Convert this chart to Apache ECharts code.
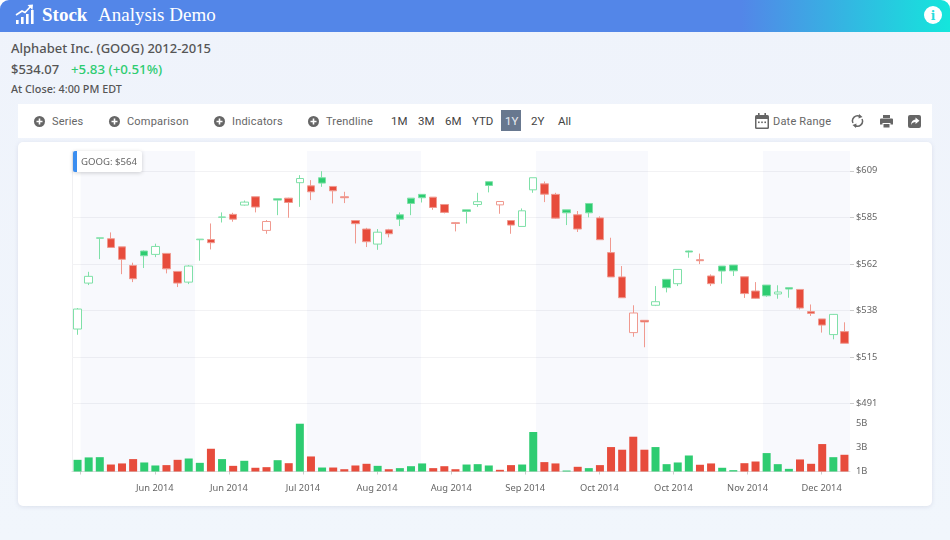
<!DOCTYPE html>
<html>
<head>
<meta charset="utf-8">
<script src="https://cdn.jsdelivr.net/npm/echarts@6/dist/echarts.min.js"></script>
<style>
html, body { margin: 0; padding: 0; background: #fff; }
#page { position: relative; width: 950px; height: 540px; overflow: hidden; border-radius: 9px 9px 0 0; background: linear-gradient(180deg, #eff3fb, #f1f6fc); font-family: "Noto Sans", sans-serif; color: #555; }
#head { position: absolute; left: 0; top: 0; width: 950px; height: 32px; background: linear-gradient(90deg, #5386e8 78%, #14e6dc 100%); }
#head span { position: absolute; font-family: "Liberation Serif", serif; color: #fff; font-size: 19px; top: 4px; white-space: nowrap; }
.t { position: absolute; white-space: nowrap; }
.bar { position: absolute; left: 18px; top: 104px; width: 914px; height: 34px; background: #fff; }
.card { position: absolute; left: 18px; top: 142px; width: 914px; height: 364px; background: #fff; border-radius: 5px; box-shadow: 0 1px 4px rgba(120,130,160,.18); }
.edge { position: absolute; left: 72px; top: 151px; width: 1px; height: 321px; background: #f0f0f2; }
.tb { font-family: Roboto, sans-serif; font-size: 11px; color: #666; top: 115px; letter-spacing: .2px; }
.rg { font-family: Roboto, sans-serif; font-size: 11.5px; color: #444; top: 114px; }
#main { position: absolute; left: 0; top: 0; width: 950px; height: 540px; }
#tag { position: absolute; left: 73px; top: 151px; width: 69px; height: 21px; background: #fff; border-left: 4px solid #3b8ef0; box-sizing: border-box; border-radius: 2px; box-shadow: 0 1px 4px rgba(0,0,0,.18); font-size: 9.6px; line-height: 21px; padding-left: 4px; color: #666; white-space: nowrap; }
svg.i { position: absolute; }
</style>
</head>
<body>
<div id="page">
  <div id="head">
    <svg class="i" style="left:15px;top:4px" width="20" height="20" viewBox="0 0 20 20">
      <g fill="#fff"><rect x="1" y="16" width="2.6" height="4"/><rect x="6" y="13" width="2.6" height="7"/><rect x="11" y="10" width="2.6" height="10"/><rect x="16" y="6" width="2.6" height="14"/></g>
      <path d="M1 11 L7 7 L10 8.5 L16 2" stroke="#fff" stroke-width="1.6" fill="none"/><path d="M12.5 1 L18 0.5 L17.5 6 Z" fill="#fff"/>
    </svg>
    <span style="left:42px;font-weight:bold">Stock</span>
    <span style="left:98px">Analysis Demo</span>
    <svg class="i" style="left:924px;top:6px" width="18" height="18" viewBox="0 0 18 18"><circle cx="9" cy="9" r="9" fill="#fff"/><text x="9" y="14" text-anchor="middle" font-family="DejaVu Serif" font-weight="bold" font-size="12" fill="#25dcdc">i</text></svg>
  </div>

  <div class="t" style="left:11px;top:39px;font-size:13px;font-weight:500">Alphabet Inc. (GOOG) 2012-2015</div>
  <div class="t" style="left:11px;top:60px;font-size:13px;font-weight:500">$534.07</div>
  <div class="t" style="left:71px;top:60px;font-size:13.3px;font-weight:500;color:#2ecc71">+5.83 (+0.51%)</div>
  <div class="t" style="left:11px;top:81px;font-size:10.8px;font-weight:500">At Close: 4:00 PM EDT</div>

  <div class="bar"></div>
  <svg class="i" style="left:33px;top:115px" width="340" height="13" viewBox="0 0 340 13">
    <g id="plus"><circle cx="6.5" cy="6.5" r="5.5" fill="#666"/><path d="M3.5 6.5H9.5M6.5 3.5V9.5" stroke="#fff" stroke-width="1.6"/></g>
    <use href="#plus" x="75"/><use href="#plus" x="180"/><use href="#plus" x="274"/>
  </svg>
  <div class="t tb" style="left:52px">Series</div>
  <div class="t tb" style="left:127px">Comparison</div>
  <div class="t tb" style="left:232px">Indicators</div>
  <div class="t tb" style="left:326px">Trendline</div>
  <div class="t rg" style="left:391px">1M</div>
  <div class="t rg" style="left:418px">3M</div>
  <div class="t rg" style="left:445px">6M</div>
  <div class="t rg" style="left:472px">YTD</div>
  <div class="t" style="left:501px;top:110px;width:20px;height:21px;background:#68788f"></div>
  <div class="t rg" style="left:505px;color:#e8ecf2">1Y</div>
  <div class="t rg" style="left:531px">2Y</div>
  <div class="t rg" style="left:558px">All</div>
  <svg class="i" style="left:755px;top:113px" width="14" height="16" viewBox="0 0 14 16"><rect x="0" y="2" width="14" height="14" rx="1.5" fill="#666"/><rect x="1.5" y="6" width="11" height="8.5" fill="#fff"/><rect x="3" y="0" width="1.6" height="3" fill="#666"/><rect x="9.4" y="0" width="1.6" height="3" fill="#666"/><g fill="#666"><rect x="3" y="8.5" width="1.6" height="1.6"/><rect x="6.2" y="8.5" width="1.6" height="1.6"/><rect x="9.4" y="8.5" width="1.6" height="1.6"/></g></svg>
  <div class="t tb" style="left:773px">Date Range</div>
  <svg class="i" style="left:851px;top:114px" width="13" height="14" viewBox="0 0 13 14"><path d="M2 9 A5 5 0 0 1 9 2.5 M11 5 A5 5 0 0 1 4 11.5" stroke="#666" stroke-width="1.5" fill="none"/><path d="M8 0 L11.5 3 L7.5 4.5 Z M5 14 L1.5 11 L5.5 9.5 Z" fill="#666"/></svg>
  <svg class="i" style="left:880px;top:115px" width="13" height="13" viewBox="0 0 13 13"><path d="M3 0H10V3H3Z M0 4.5Q0 3.5 1 3.5H12Q13 3.5 13 4.5V9.5H10.5V8H2.5V9.5H0Z" fill="#666"/><rect x="3.5" y="9" width="6" height="3.5" fill="#666"/></svg>
  <svg class="i" style="left:908px;top:115px" width="13" height="13" viewBox="0 0 13 13"><rect width="13" height="13" rx="2" fill="#666"/><path d="M7.5 2.5 L11.5 5.8 L7.5 9 V7 C5.5 7 4 7.8 3 10 C3 6.5 5 4.6 7.5 4.5Z" fill="#fff"/></svg>

  <div class="card"></div>
  <div class="edge"></div>
  <div id="main"></div>
  <div id="tag">GOOG: $564</div>
</div>

<script>
var opens = [528.6, 551.8, 574.4, 574.2, 570.1, 560.7, 568.0, 566.3, 566.8, 557.7,
  552.3, 573.7, 573.8, 585.0, 586.5, 591.2, 595.4, 578.4, 594.4, 594.7,
  602.5, 600.9, 605.0, 600.6, 595.4, 583.4, 579.1, 571.5, 578.7, 586.3,
  594.7, 596.6, 595.2, 591.5, 582.3, 588.8, 591.5, 603.0, 591.3, 583.4,
  580.4, 598.9, 601.9, 596.6, 588.8, 586.3, 592.0, 584.7, 567.2, 554.9,
  526.8, 533.0, 540.6, 553.7, 551.5, 568.0, 563.6, 555.4, 560.4, 560.9,
  555.0, 547.8, 550.8, 546.3, 549.5, 548.6, 537.4, 533.7, 525.8, 527.3];
var closes = [538.7, 555.2, 574.7, 569.8, 563.8, 554.0, 565.6, 570.3, 559.0, 551.8,
  560.4, 574.0, 572.2, 585.2, 584.1, 592.7, 590.2, 582.9, 593.7, 592.5,
  604.6, 597.9, 602.3, 598.4, 594.9, 581.8, 572.7, 577.5, 576.7, 584.1,
  592.0, 594.9, 590.0, 587.5, 581.9, 588.0, 592.9, 601.1, 593.0, 581.1,
  588.3, 605.0, 596.7, 584.6, 587.3, 579.1, 587.3, 573.7, 554.9, 544.4,
  536.7, 532.2, 542.4, 549.5, 558.7, 567.5, 563.1, 551.5, 557.9, 558.0,
  546.5, 544.1, 545.4, 547.3, 548.8, 539.2, 536.5, 530.6, 536.0, 521.4];
var lows = [525.7, 550.8, 563.9, 569.8, 556.3, 552.3, 559.4, 564.9, 556.7, 549.8,
  551.3, 563.1, 568.8, 582.4, 582.8, 590.9, 587.5, 576.7, 586.1, 584.8,
  590.3, 593.7, 600.4, 592.0, 592.2, 571.8, 570.0, 568.6, 574.9, 580.6,
  586.1, 592.5, 588.8, 587.0, 577.9, 581.9, 590.3, 597.6, 586.8, 576.7,
  580.4, 597.4, 592.7, 584.3, 581.1, 577.6, 585.0, 573.7, 554.9, 544.4,
  524.7, 519.4, 540.2, 547.1, 550.3, 564.6, 561.4, 550.3, 551.5, 555.4,
  544.3, 543.8, 544.9, 543.9, 544.4, 538.5, 535.2, 526.8, 523.4, 521.4];
var highs = [539.2, 557.5, 574.7, 577.4, 570.1, 562.1, 568.3, 571.7, 566.8, 557.7,
  560.9, 574.0, 581.9, 587.5, 587.3, 593.5, 595.4, 583.6, 594.4, 594.9,
  606.3, 603.8, 608.3, 600.6, 597.9, 583.4, 579.7, 579.1, 579.2, 587.5,
  594.7, 596.6, 595.2, 591.5, 582.6, 588.8, 597.4, 603.0, 593.0, 583.4,
  589.5, 605.0, 603.1, 597.4, 588.8, 588.2, 592.0, 585.5, 574.7, 560.4,
  540.6, 533.0, 550.3, 553.7, 558.7, 568.2, 566.7, 556.2, 560.4, 560.9,
  555.0, 552.3, 550.8, 550.7, 549.5, 548.6, 541.0, 533.7, 536.2, 532.0];
// volume in billions
var volumes = [1.97, 2.17, 2.19, 1.58, 1.67, 2.03, 1.75, 1.5, 1.53, 1.97,
  2.08, 1.72, 2.89, 2.03, 1.47, 1.89, 1.31, 1.36, 1.94, 1.69,
  4.97, 2.25, 1.33, 1.33, 1.19, 1.5, 1.64, 1.47, 1.19, 1.28,
  1.44, 1.67, 1.28, 1.44, 1.19, 1.58, 1.61, 1.5, 1.14, 1.53,
  1.58, 4.28, 1.78, 1.67, 1.08, 1.39, 1.28, 1.53, 3.03, 2.81,
  3.89, 2.81, 3.03, 1.61, 1.75, 2.33, 1.56, 1.67, 1.31, 1.11,
  1.69, 1.83, 2.53, 1.61, 1.22, 2.0, 1.64, 3.28, 2.19, 2.39];

// x axis runs in trading-day index, month marks fall between the sessions
var monthTicks = [0.283, 6.95, 13.62, 20.28, 26.95, 33.62, 40.28, 46.95, 53.62, 60.28, 66.95];
var monthLabels = ['', 'Jun 2014', 'Jun 2014', 'Jul 2014', 'Aug 2014', 'Aug 2014', 'Sep 2014', 'Oct 2014', 'Oct 2014', 'Nov 2014', 'Dec 2014'];
var shadedMonths = [[0.283, 10.57], [20.64, 30.9], [41.25, 51.33], [61.67, 69.5]];
var priceTicks = [491, 514.5, 538, 561.5, 585, 608.5];
var volumeTicks = [1, 3, 5];

var green = '#2ecc71', red = '#e74c3c';
var greenEdge = '#7fe0a8', redEdge = '#f09a90';

function isUp(i) {
    return i === 0 || closes[i] >= closes[i - 1];
}

// hollow when close is above open, colour follows the previous close
function candleGroup(up, hollow) {
    var rows = [];
    closes.forEach(function (c, i) {
        if (isUp(i) === up && (c > opens[i]) === hollow) {
            rows.push([i, opens[i], c, lows[i], highs[i]]);
        }
    });
    var fill = hollow ? '#fff' : (up ? green : red);
    var edge = up ? greenEdge : redEdge;
    return {
        type: 'candlestick',
        xAxisIndex: 0, yAxisIndex: 0,
        barWidth: 8,
        itemStyle: { color: fill, color0: fill, borderColor: edge, borderColor0: edge, borderWidth: 1 },
        data: rows
    };
}

var volumeData = volumes.map(function (v, i) {
    return { value: [i, v], itemStyle: { color: isUp(i) ? green : red } };
});

var bandData = shadedMonths.map(function (b) {
    return [{ xAxis: b[0] }, { xAxis: b[1] }];
});
var bandStyle = { silent: true, itemStyle: { color: 'rgba(70,90,210,0.04)' }, data: bandData };
var labelFont = { color: '#666', fontSize: 9.3, fontFamily: 'Noto Sans', padding: [2, 0, 0, 0] };

var candleSeries = [candleGroup(true, true), candleGroup(true, false), candleGroup(false, true), candleGroup(false, false)];
candleSeries[0].markArea = bandStyle;

var myChart = echarts.init(document.getElementById('main'));
myChart.setOption({
    animation: false,
    grid: [
        { left: 72, right: 100, top: 151, height: 252.5 },
        { left: 72, right: 100, top: 403.5, height: 68 }
    ],
    xAxis: [{
        type: 'value', gridIndex: 0, min: -0.5, max: 69.5,
        axisLine: { show: false, onZero: false }, axisTick: { show: false }, axisLabel: { show: false }, splitLine: { show: false }
    }, {
        type: 'value', gridIndex: 1, min: -0.5, max: 69.5,
        axisLine: { onZero: false, lineStyle: { color: '#ddd' } },
        axisTick: { length: 3, lineStyle: { color: '#ccc' }, customValues: monthTicks },
        axisLabel: Object.assign({
            margin: 10,
            customValues: monthTicks.slice(1),
            formatter: function (v) { return monthLabels[monthTicks.indexOf(v)]; }
        }, labelFont),
        splitLine: { show: false }
    }],
    yAxis: [{
        type: 'value', gridIndex: 0, position: 'right', min: 491, max: 618.5,
        axisLine: { show: false, onZero: false },
        axisTick: { show: true, length: 4, lineStyle: { color: '#ccc' }, customValues: priceTicks },
        axisLabel: Object.assign({
            margin: 6,
            customValues: priceTicks,
            formatter: function (v) { return '$' + Math.round(v); }
        }, labelFont),
        splitLine: { lineStyle: { color: '#f2f2f4' } }
    }, {
        type: 'value', gridIndex: 1, position: 'right', min: 1, max: 6.65,
        axisLine: { show: false, onZero: false },
        axisTick: { show: false },
        axisLabel: Object.assign({
            margin: 6,
            customValues: volumeTicks,
            formatter: function (v) { return v + 'B'; }
        }, labelFont),
        splitLine: { show: false }
    }],
    series: candleSeries.concat([{
        type: 'bar',
        xAxisIndex: 1, yAxisIndex: 1,
        barWidth: 8,
        data: volumeData,
        markArea: bandStyle
    }])
});
</script>
</body>
</html>
